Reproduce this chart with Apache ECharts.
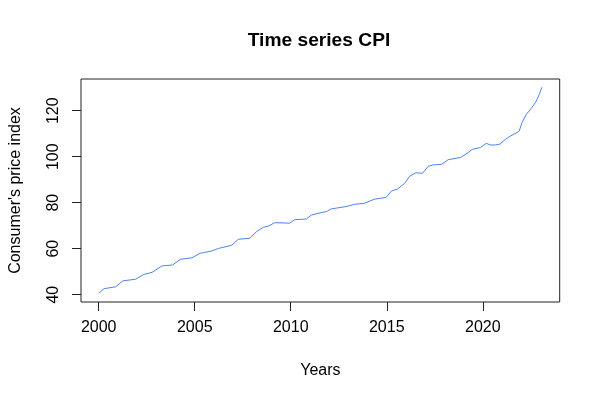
<!DOCTYPE html>
<html>
<head>
<meta charset="utf-8">
<script src="https://cdn.jsdelivr.net/npm/echarts@6/dist/echarts.min.js"></script>
<style>html,body{margin:0;padding:0;background:#fff}#c{width:600px;height:400px}</style>
</head>
<body>
<div id="c"></div>
<script>
const years = [2000.00,2000.28,2000.88,2001.26,2001.92,2002.35,2002.78,2003.30,2003.85,2004.25,2004.85,2005.28,2005.89,2006.24,2006.93,2007.27,2007.85,2008.22,2008.57,2008.83,2009.17,2009.95,2010.21,2010.81,2011.07,2011.59,2011.85,2012.11,2012.88,2013.32,2013.83,2013.92,2014.35,2014.96,2015.25,2015.56,2015.93,2016.19,2016.51,2016.86,2017.16,2017.40,2017.85,2018.20,2018.85,2019.28,2019.45,2019.88,2020.18,2020.40,2020.66,2020.90,2021.20,2021.44,2021.78,2021.90,2022.04,2022.25,2022.50,2022.75,2022.94,2023.08];
const cpi = [40.6,42.6,43.4,46.0,46.7,48.8,49.7,52.5,52.9,55.4,56.0,58.0,59.0,60.1,61.5,64.1,64.5,67.4,69.3,69.8,71.3,71.1,72.6,72.9,74.6,75.7,76.1,77.3,78.3,79.3,79.7,79.4,81.5,82.3,85.1,85.9,88.4,91.5,93.0,92.8,95.8,96.4,96.7,98.7,99.7,102.0,103.2,104.0,105.8,105.1,105.1,105.5,107.7,109.0,110.5,111.2,114.8,118.2,120.8,123.6,127.0,130.2];
const xTicks = [2000,2005,2010,2015,2020];
const yTicks = [40,60,80,100,120];
const titleText = 'Time series CPI';
const xName = 'Years';
const yName = "Consumer's price index";

const font = 'Liberation Sans, Arial, Helvetica, sans-serif';
const chart = echarts.init(document.getElementById('c'));
chart.setOption({
  animation: false,
  backgroundColor: '#fff',
  graphic: [{
    type: 'text', x: 319, y: 41,
    style: { text: titleText, font: 'bold 19.2px ' + font, fill: '#000', textAlign: 'center', textVerticalAlign: 'middle' }
  }],
  grid: { left: 78.7, right: 40.3, top: 79, bottom: 98, show: true, borderColor: '#222', borderWidth: 1, backgroundColor: 'transparent' },
  xAxis: {
    type: 'value', min: 1999.077, max: 2024.006,
    name: xName, nameLocation: 'middle', nameGap: 61,
    nameTextStyle: { fontFamily: font, fontSize: 16, color: '#000' },
    axisLine: { show: false },
    splitLine: { show: false },
    axisTick: { show: true, length: 9, customValues: xTicks, lineStyle: { color: '#222' } },
    axisLabel: { customValues: xTicks, margin: 18, fontFamily: font, fontSize: 16, color: '#000', formatter: v => String(v) }
  },
  yAxis: {
    type: 'value', min: 36.8, max: 133.8,
    name: yName, nameLocation: 'middle', nameGap: 57, nameRotate: 90,
    nameTextStyle: { fontFamily: font, fontSize: 16, color: '#000' },
    axisLine: { show: false },
    splitLine: { show: false },
    axisTick: { show: true, length: 9, customValues: yTicks, lineStyle: { color: '#222' } },
    axisLabel: { customValues: yTicks, rotate: 90, margin: 19, fontFamily: font, fontSize: 16, color: '#000', formatter: v => String(v) }
  },
  series: [{
    type: 'line', showSymbol: false, smooth: false,
    data: years.map((y, i) => [y, cpi[i]]),
    lineStyle: { color: '#5082ee', width: 1 },
    itemStyle: { color: '#5082ee' }
  }]
});
</script>
</body>
</html>
